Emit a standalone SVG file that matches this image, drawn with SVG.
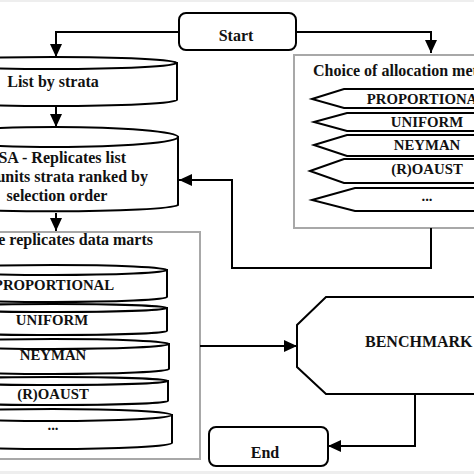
<svg xmlns="http://www.w3.org/2000/svg" width="474" height="474" viewBox="0 0 474 474">
<defs>
<style>
.s{fill:#fff;stroke:#000;stroke-width:2}
.g{fill:#fff;stroke:#a8a8a8;stroke-width:2}
.c{fill:none;stroke:#000;stroke-width:2}
text{font-family:"Liberation Serif","Times New Roman",serif;font-weight:bold;font-size:16px;fill:#111}
.m{text-anchor:middle}
.e{text-anchor:end}
.l{font-size:14.8px}
</style>
<marker id="ah" markerUnits="userSpaceOnUse" markerWidth="13" markerHeight="12" refX="13" refY="6" orient="auto">
<path d="M0,0 L13,6 L0,12 z" fill="#000"/>
</marker>
</defs>
<rect x="0" y="0" width="474" height="474" fill="#fff"/>
<rect x="0" y="0" width="474" height="2" fill="#eeeeee"/>
<rect x="0" y="471" width="474" height="3" fill="#eeeeee"/>

<g id="choice-box">
<rect class="g" x="294" y="55" width="200" height="173"/>
<text x="313" y="76">Choice of allocation met</text>
</g>
<g id="choice-proportional">
<path class="s" d="M312,99 L344,89 L510,89 L510,108 L344,108 Z"/>
<text class="m l" x="427" y="104">PROPORTIONAL</text>
</g>
<g id="choice-uniform">
<path class="s" d="M314,122 L347,113 L510,113 L510,131 L347,131 Z"/>
<text class="m l" x="427" y="127">UNIFORM</text>
</g>
<g id="choice-neyman">
<path class="s" d="M314,145 L347,135 L510,135 L510,156 L347,156 Z"/>
<text class="m l" x="427" y="150">NEYMAN</text>
</g>
<g id="choice-roaust">
<path class="s" d="M310,171 L344,159 L510,159 L510,183 L344,183 Z"/>
<text class="m l" x="427" y="174">(R)OAUST</text>
</g>
<g id="choice-more">
<path class="s" d="M312,200 L355,188 L510,188 L510,211 L355,211 Z"/>
<text class="m l" x="427" y="201">...</text>
</g>

<g id="start">
<rect class="s" x="179" y="13" width="117" height="37" rx="7"/>
<text class="m" x="236" y="41">Start</text>
</g>

<g id="list-by-strata">
<path class="s" d="M-71,63 L-71,100 A124,6 0 0 0 177,100 L177,63 Z"/>
<ellipse class="s" cx="53" cy="63" rx="124" ry="6"/>
<text class="m" x="53" y="87">List by strata</text>
</g>

<g id="replicates-list">
<path class="s" d="M-67,137 L-67,205 A123,7 0 0 0 178,205 L178,137 Z"/>
<ellipse class="s" cx="55.5" cy="137" rx="122.5" ry="10"/>
<text class="e" x="126" y="163">SA - Replicates list</text>
<text class="e" x="148" y="182">units strata ranked by</text>
<text class="m" x="57" y="201">selection order</text>
</g>

<g id="data-marts-box">
<rect class="g" x="-10" y="232" width="210" height="227"/>
<text class="e" x="153" y="245">e replicates data marts</text>
</g>
<g id="mart-proportional">
<path class="s" d="M-61,270 L-61,297 A114,5 0 0 0 167,297 L167,270 Z"/>
<ellipse class="s" cx="53" cy="270" rx="114" ry="5"/>
<text class="m l" x="54" y="290">PROPORTIONAL</text>
</g>
<g id="mart-uniform">
<path class="s" d="M-61,308 L-61,331 A114,4 0 0 0 167,331 L167,308 Z"/>
<ellipse class="s" cx="53" cy="308" rx="114" ry="4"/>
<text class="m l" x="52" y="325">UNIFORM</text>
</g>
<g id="mart-neyman">
<path class="s" d="M-63,344 L-63,369 A116,5 0 0 0 169,369 L169,344 Z"/>
<ellipse class="s" cx="53" cy="344" rx="116" ry="5"/>
<text class="m l" x="53" y="360">NEYMAN</text>
</g>
<g id="mart-roaust">
<path class="s" d="M-62,381 L-62,401 A115,4 0 0 0 168,401 L168,381 Z"/>
<ellipse class="s" cx="53" cy="381" rx="115" ry="4"/>
<text class="m l" x="53" y="399">(R)OAUST</text>
</g>
<g id="mart-more">
<path class="s" d="M-66,415 L-66,443 A119,6 0 0 0 172,443 L172,415 Z"/>
<ellipse class="s" cx="53" cy="415" rx="119" ry="6"/>
<text class="m l" x="53" y="430">...</text>
</g>

<g id="benchmark">
<path class="s" d="M326,297 L500,297 L500,394 L326,394 L297,367 L297,325 Z"/>
<text x="365" y="347">BENCHMARK</text>
</g>

<g id="end">
<rect class="s" x="209" y="427" width="119" height="39" rx="7"/>
<text class="m" x="265" y="458">End</text>
</g>

<g id="connectors">
<path class="c" d="M179,32 L56,32 L56,57" marker-end="url(#ah)"/>
<path class="c" d="M296,32 L431,32 L431,53" marker-end="url(#ah)"/>
<path class="c" d="M56,107 L56,127" marker-end="url(#ah)"/>
<path class="c" d="M56,213 L56,231" marker-end="url(#ah)"/>
<path class="c" d="M431,228 L431,268 L232,268 L232,180 L179,180" marker-end="url(#ah)"/>
<path class="c" d="M200,346 L297,346" marker-end="url(#ah)"/>
<path class="c" d="M415,394 L415,446 L328,446" marker-end="url(#ah)"/>
</g>
</svg>
